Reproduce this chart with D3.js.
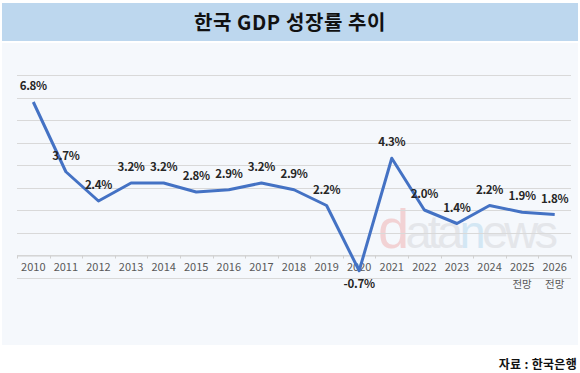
<!DOCTYPE html>
<html>
<head>
<meta charset="utf-8">
<script src="https://cdn.jsdelivr.net/npm/d3@7"></script>
<style>
  html, body { margin: 0; padding: 0; background: #fff; }
  svg { display: block; font-family: "Noto Sans CJK KR", "Noto Sans", sans-serif; }
</style>
</head>
<body>
<svg id="chart" width="580" height="373"></svg>
<script>
const years = ['2010', '2011', '2012', '2013', '2014', '2015', '2016', '2017', '2018',
  '2019', '2020', '2021', '2022', '2023', '2024', '2025', '2026'];
const growth = [6.8, 3.7, 2.4, 3.2, 3.2, 2.8, 2.9, 3.2, 2.9, 2.2, -0.7, 4.3, 2.0, 1.4, 2.2, 1.9, 1.8];
const forecastYears = ['2025', '2026'];
const gridValues = [-1, 0, 1, 2, 3, 4, 5, 6, 7, 8];

const svg = d3.select('#chart');

// title bar
svg.append('rect').attr('x', 2).attr('y', 3).attr('width', 576).attr('height', 38).attr('fill', '#bdd7ee');
svg.append('text')
  .attr('x', 290).attr('y', 21.5)
  .attr('text-anchor', 'middle').attr('dominant-baseline', 'central')
  .attr('font-size', 20).attr('font-weight', 600).attr('fill', '#111')
  .attr('letter-spacing', 0.6)
  .text('한국 GDP 성장률 추이');

// plot background
svg.append('rect').attr('x', 2).attr('y', 43).attr('width', 576).attr('height', 302).attr('fill', '#f5f8fc');

const x = d3.scaleBand().domain(years).range([17, 571]).padding(0);
const y = d3.scaleLinear().domain([-1, 8]).range([277.5, 75]);
const cx = (d) => x(d) + x.bandwidth() / 2;

// watermark
const wm = svg.append('text')
  .attr('x', 378).attr('y', 248)
  .attr('font-family', '"Liberation Sans", Arial, sans-serif')
  .attr('font-size', 47)
  .attr('textLength', 180).attr('lengthAdjust', 'spacing');
[['d', '#f2d2d4', 56], ['ata', '#e4e6ea', 47], ['n', '#d3e7f4', 47], ['ews', '#e4e6ea', 47]].forEach(([t, c, s]) => {
  wm.append('tspan').attr('fill', c).attr('font-size', s).text(t);
});

// gridlines
svg.append('g')
  .selectAll('line')
  .data(gridValues)
  .join('line')
  .attr('x1', 17).attr('x2', 571)
  .attr('y1', (d) => Math.round(y(d)) + 0.5)
  .attr('y2', (d) => Math.round(y(d)) + 0.5)
  .attr('stroke', '#d9d9d9').attr('stroke-width', 1);

// category axis at zero
const axis = svg.append('g')
  .attr('transform', `translate(0,${Math.round(y(0)) + 0.5})`)
  .call(d3.axisBottom(x).tickSize(0).tickFormat(''));
axis.select('.domain').attr('stroke', '#d0d0d0');
axis.selectAll('.sep')
  .data(years.concat(['end']))
  .join('line')
  .attr('class', 'sep')
  .attr('x1', (d, i) => Math.round(17 + i * x.bandwidth()) + 0.5)
  .attr('x2', (d, i) => Math.round(17 + i * x.bandwidth()) + 0.5)
  .attr('y1', 0).attr('y2', 3)
  .attr('stroke', '#d0d0d0');

svg.append('g')
  .selectAll('text')
  .data(years)
  .join('text')
  .attr('x', cx).attr('y', 266)
  .attr('text-anchor', 'middle').attr('dominant-baseline', 'central')
  .attr('font-size', 11).attr('fill', '#595959')
  .text((d) => d);

svg.append('g')
  .selectAll('text')
  .data(forecastYears)
  .join('text')
  .attr('x', cx).attr('y', 283)
  .attr('text-anchor', 'middle').attr('dominant-baseline', 'central')
  .attr('font-size', 10.5).attr('fill', '#595959')
  .text('전망');

// line
const points = years.map((yr, i) => ({ year: yr, value: growth[i] }));
svg.append('path')
  .datum(points)
  .attr('fill', 'none')
  .attr('stroke', '#4472c4')
  .attr('stroke-width', 3)
  .attr('stroke-linejoin', 'round')
  .attr('d', d3.line().x((d) => cx(d.year)).y((d) => y(d.value)));

// value labels
svg.append('g')
  .selectAll('text')
  .data(points)
  .join('text')
  .attr('x', (d) => cx(d.year))
  .attr('y', (d) => (d.value < 0 ? y(d.value) + 12 : y(d.value) - 17))
  .attr('text-anchor', 'middle').attr('dominant-baseline', 'central')
  .attr('font-size', 11.5).attr('font-weight', 700).attr('fill', '#262626')
  .attr('letter-spacing', -0.3)
  .text((d) => `${d.value.toFixed(1)}%`);

// source
svg.append('text')
  .attr('x', 577).attr('y', 363)
  .attr('text-anchor', 'end').attr('dominant-baseline', 'central')
  .attr('font-size', 12).attr('font-weight', 700).attr('fill', '#111')
  .attr('letter-spacing', 0.3)
  .text('자료 : 한국은행');
</script>
</body>
</html>
